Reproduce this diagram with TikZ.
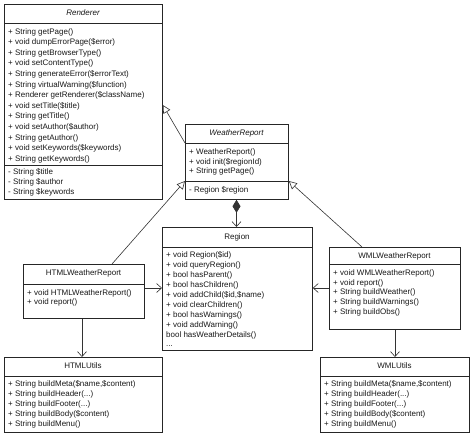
\documentclass[tikz,border=0pt]{standalone}
\usepackage{fontspec}
\setmainfont{Liberation Sans}
\usetikzlibrary{arrows.meta}
\newcommand\mydots{...}
\begin{document}
\begin{tikzpicture}[x=1pt,y=-1pt,
  cls/.style={draw=black!85, line width=0.8pt, inner sep=0pt, anchor=north west, fill=white},
  txt/.style={font=\fontsize{8}{9}\selectfont, inner sep=0pt, text height=6pt, text depth=1.7pt, text=black!90},
  ttl/.style={txt, anchor=center},
  mem/.style={txt, anchor=west},
  sepline/.style={draw=black!85, line width=0.8pt},
  conn/.style={draw=black!80, line width=0.6pt},
  gen/.style={conn, -{Triangle[open, length=8pt, width=8pt, fill=white]}},
  dep/.style={conn, -{Straight Barb[length=5pt, width=9pt]}},
  comp/.style={conn, {Diamond[length=13pt, width=8pt]}-{Straight Barb[length=5pt, width=9pt]}},
]
\useasboundingbox (0,0) rectangle (474,436);

% ---------- Renderer ----------
\node[cls, minimum width=158pt, minimum height=195pt] (ren) at (4,4) {};
\draw[sepline] (4,23) -- (162,23);
\draw[sepline] (4,165.5) -- (162,165.5);
\node[ttl, font=\fontsize{8}{9}\selectfont\itshape] (renT) at (83,13.5) {Renderer};
\foreach [count=\i] \t in {%
  {+ String getPage()},
  {+ void dumpErrorPage(\$error)},
  {+ String getBrowserType()},
  {+ void setContentType()},
  {+ String generateError(\$errorText)},
  {+ String virtualWarning(\$function)},
  {+ Renderer getRenderer(\$className)},
  {+ void setTitle(\$title)},
  {+ String getTitle()},
  {+ void setAuthor(\$author)},
  {+ String getAuthor()},
  {+ void setKeywords(\$keywords)},
  {+ String getKeywords()}}
  \node[mem] (renM\i) at (8,{32+10.6*(\i-1)}) {\t};
\foreach [count=\i] \t in {{- String \$title},{- String \$author},{- String \$keywords}}
  \node[mem] (renA\i) at (8,{172+10*(\i-1)}) {\t};

% ---------- WeatherReport ----------
\node[cls, minimum width=103pt, minimum height=75pt] (wr) at (185,124) {};
\draw[sepline] (185,143) -- (288,143);
\draw[sepline] (185,181) -- (288,181);
\node[ttl, font=\fontsize{8}{9}\selectfont\itshape] (wrT) at (236.5,133.5) {WeatherReport};
\foreach [count=\i] \t in {{+ WeatherReport()},{+ void init(\$regionId)},{+ String getPage()}}
  \node[mem] (wrM\i) at (189,{152.5+9.5*(\i-1)}) {\t};
\node[mem] (wrA1) at (189,190) {- Region \$region};

% ---------- Region ----------
\node[cls, minimum width=150pt, minimum height=123pt] (reg) at (162,227) {};
\draw[sepline] (162,247) -- (312,247);
\node[ttl] (regT) at (237,237) {Region};
\foreach [count=\i] \t in {%
  {+ void Region(\$id)},
  {+ void queryRegion()},
  {+ bool hasParent()},
  {+ bool hasChildren()},
  {+ void addChild(\$id,\$name)},
  {+ void clearChildren()},
  {+ bool hasWarnings()},
  {+ void addWarning()},
  {bool hasWeatherDetails()}}
  \node[mem] (regM\i) at (166,{255+10*(\i-1)}) {\t};
\node[mem] (regM10) at (166,344) {\mydots};

% ---------- HTMLWeatherReport ----------
\node[cls, minimum width=121pt, minimum height=54pt] (hwr) at (23,264) {};
\draw[sepline] (23,284) -- (144,284);
\node[ttl] (hwrT) at (83.5,273.5) {HTMLWeatherReport};
\node[mem] (hwrM1) at (27,293) {+ void HTMLWeatherReport()};
\node[mem] (hwrM2) at (27,302.5) {+ void report()};

% ---------- WMLWeatherReport ----------
\node[cls, minimum width=131pt, minimum height=82pt] (wwr) at (329,247) {};
\draw[sepline] (329,264.5) -- (460,264.5);
\node[ttl] (wwrT) at (394.5,256) {WMLWeatherReport};
\foreach [count=\i] \t in {{+ void WMLWeatherReport()},{+ void report()},{+ String buildWeather()},{+ String buildWarnings()},{+ String buildObs()}}
  \node[mem] (wwrM\i) at (333,{273.5+9.6*(\i-1)}) {\t};

% ---------- HTMLUtils ----------
\node[cls, minimum width=158pt, minimum height=75pt] (hu) at (4,357) {};
\draw[sepline] (4,376.5) -- (162,376.5);
\node[ttl] (huT) at (83,366) {HTMLUtils};
\node[mem] (huM1) at (8,384.5) {+ String buildMeta(\$name,\$content)};
\node[mem] (huM2) at (8,394.5) {+ String buildHeader(\mydots)};
\node[mem] (huM3) at (8,404.5) {+ String buildFooter(\mydots)};
\node[mem] (huM4) at (8,414.5) {+ String buildBody(\$content)};
\node[mem] (huM5) at (8,424.5) {+ String buildMenu()};

% ---------- WMLUtils ----------
\node[cls, minimum width=149pt, minimum height=75pt] (wu) at (320,357) {};
\draw[sepline] (320,376.5) -- (469,376.5);
\node[ttl] (wuT) at (394.5,366) {WMLUtils};
\node[mem] (wuM1) at (324,384.5) {+ String buildMeta(\$name,\$content)};
\node[mem] (wuM2) at (324,394.5) {+ String buildHeader(\mydots)};
\node[mem] (wuM3) at (324,404.5) {+ String buildFooter(\mydots)};
\node[mem] (wuM4) at (324,414.5) {+ String buildBody(\$content)};
\node[mem] (wuM5) at (324,424.5) {+ String buildMenu()};

% ---------- connectors ----------
\draw[gen] ([yshift=-19pt]wr.north west) -- ([yshift=-101pt]ren.north east);
\draw[gen] ([xshift=89pt]hwr.north west) -- ([yshift=-57pt]wr.north west);
\draw[gen] ([xshift=33pt]wwr.north west) -- ([yshift=-57pt]wr.north east);
\draw[comp] ([xshift=51.5pt]wr.south west) -- ([xshift=74.5pt]reg.north west);
\draw[dep] ([yshift=-24pt]hwr.north east) -- ([yshift=-61pt]reg.north west);
\draw[dep] ([yshift=-41pt]wwr.north west) -- ([yshift=-61pt]reg.north east);
\draw[dep] ([xshift=59pt]hwr.south west) -- ([xshift=78pt]hu.north west);
\draw[dep] ([xshift=66pt]wwr.south west) -- ([xshift=75pt]wu.north west);
\end{tikzpicture}
\end{document}
